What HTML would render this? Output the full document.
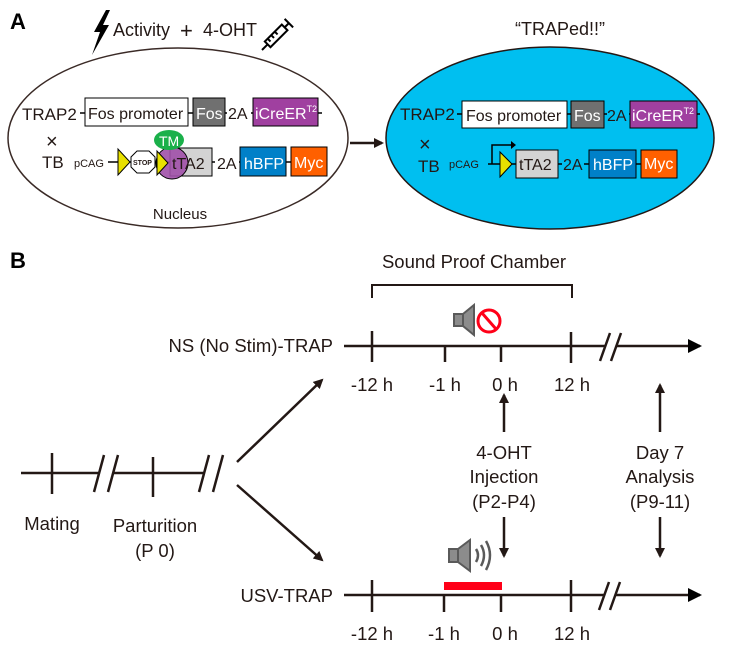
<!DOCTYPE html>
<html><head><style>body{margin:0;background:#fff}svg{display:block}text{font-family:"Liberation Sans",sans-serif;fill:#231815}</style></head>
<body>
<svg width="730" height="648" viewBox="0 0 730 648" xmlns="http://www.w3.org/2000/svg">
<defs>
<marker id="ah" markerWidth="10" markerHeight="10" refX="8" refY="5" orient="auto" markerUnits="userSpaceOnUse"><path d="M0,0 L10,5 L0,10 Z" fill="#231815"/></marker>
<marker id="ah2" markerWidth="14" markerHeight="14" refX="12" refY="7" orient="auto" markerUnits="userSpaceOnUse"><path d="M0,0 L14,7 L0,14 Z" fill="#000"/></marker>
</defs>
<!-- Panel A -->
<text x="10" y="29" font-size="22" font-weight="bold" style="fill:#000">A</text>
<path d="M106,10 L94,32 L100,32 L92,55 L109,25 L103,25 L110,10 Z" fill="#000"/>
<text x="113" y="36" font-size="18">Activity</text>
<text x="180" y="38" font-size="22">+</text>
<text x="203" y="36" font-size="18">4-OHT</text>
<g transform="translate(262,50) rotate(-45)" stroke="#000" fill="none" stroke-width="2">
<line x1="0" y1="0" x2="8" y2="0"/><rect x="8" y="-4" width="24" height="8" fill="#fff"/><line x1="32" y1="0" x2="38" y2="0"/><line x1="38" y1="-6" x2="38" y2="6"/><line x1="12" y1="-4" x2="12" y2="0"/><line x1="17" y1="-4" x2="17" y2="0"/><line x1="22" y1="-4" x2="22" y2="0"/>
</g>
<ellipse cx="178" cy="138" rx="170" ry="90" fill="#fff" stroke="#3a2a26" stroke-width="1.5"/>
<text x="22" y="120" font-size="17">TRAP2</text>
<line x1="80" y1="113" x2="322" y2="113" stroke="#000" stroke-width="1.5"/>
<rect x="85" y="98" width="103" height="28" fill="#fff" stroke="#000"/>
<text x="88" y="119" font-size="16">Fos promoter</text>
<rect x="193" y="98" width="32" height="28" fill="#707070" stroke="#000"/>
<text x="196" y="119" font-size="16" style="fill:#fff">Fos</text>
<rect x="227" y="100" width="24" height="24" fill="#fff"/>
<text x="228" y="119" font-size="16">2A</text>
<rect x="253" y="98" width="65" height="28" fill="#a040a0" stroke="#000"/>
<text x="255" y="119" font-size="16" style="fill:#fff">iCreER<tspan font-size="9" dy="-7">T2</tspan></text>
<text x="46" y="148" font-size="20">×</text>
<text x="42" y="168" font-size="17">TB</text>
<line x1="108" y1="162" x2="327" y2="162" stroke="#000" stroke-width="1.5"/>
<text x="74" y="167" font-size="11">pCAG</text>
<polygon points="118,149 118,175 130,162" fill="#e8e000" stroke="#000"/>
<polygon points="137,151 149,151 155,157 155,167 149,173 137,173 131,167 131,157" fill="#fff" stroke="#000"/>
<text x="133" y="165" font-size="7" font-weight="bold">STOP</text>
<rect x="170" y="148" width="42" height="28" fill="#d3d3d3" stroke="#000"/>
<circle cx="172" cy="163" r="16" fill="#a050a8" stroke="#000" fill-opacity="0.9"/>
<polygon points="157,151 157,175 168,163" fill="#e8e000" stroke="#000"/>
<text x="172" y="169" font-size="16">tTA2</text>
<ellipse cx="169" cy="140" rx="15" ry="10" fill="#1ab04a"/>
<text x="159" y="146" font-size="14" style="fill:#fff">TM</text>
<rect x="215" y="150" width="24" height="24" fill="#fff"/>
<text x="217" y="169" font-size="16">2A</text>
<rect x="240" y="147" width="46" height="29" fill="#0080c8" stroke="#000"/>
<text x="244" y="169" font-size="16" style="fill:#fff">hBFP</text>
<rect x="291" y="147" width="36" height="29" fill="#ff6000" stroke="#000"/>
<text x="294" y="168" font-size="16" style="fill:#fff">Myc</text>
<text x="180" y="219" font-size="15" text-anchor="middle">Nucleus</text>
<line x1="350" y1="143" x2="382" y2="143" stroke="#231815" stroke-width="2.5" marker-end="url(#ah)"/>
<text x="560" y="35" font-size="18" text-anchor="middle">“TRAPed!!”</text>
<ellipse cx="550" cy="138" rx="164" ry="91" fill="#00bff0" stroke="#231815" stroke-width="1.5"/>
<text x="400" y="120" font-size="17">TRAP2</text>
<line x1="457" y1="114" x2="700" y2="114" stroke="#000" stroke-width="1.5"/>
<rect x="462" y="101" width="105" height="27" fill="#fff" stroke="#000"/>
<text x="466" y="121" font-size="16">Fos promoter</text>
<rect x="571" y="101" width="33" height="27" fill="#707070" stroke="#000"/>
<text x="574" y="121" font-size="16" style="fill:#fff">Fos</text>
<rect x="607" y="103" width="22" height="22" fill="#00bff0"/>
<text x="607" y="121" font-size="16">2A</text>
<rect x="630" y="101" width="67" height="27" fill="#a040a0" stroke="#000"/>
<text x="632" y="121" font-size="16" style="fill:#fff">iCreER<tspan font-size="9" dy="-7">T2</tspan></text>
<text x="419" y="151" font-size="20">×</text>
<text x="418" y="172" font-size="17">TB</text>
<text x="449" y="168" font-size="11">pCAG</text>
<line x1="488" y1="164" x2="677" y2="164" stroke="#000" stroke-width="1.5"/>
<polyline points="492,164 492,145 514,145" fill="none" stroke="#000" stroke-width="1.5"/>
<path d="M511,141 L516,145 L511,149 Z" fill="#000"/>
<polygon points="500,152 500,177 512,164" fill="#e8e000" stroke="#000"/>
<rect x="516" y="150" width="42" height="28" fill="#d3d3d3" stroke="#000"/>
<text x="519" y="170" font-size="16">tTA2</text>
<rect x="562" y="153" width="22" height="22" fill="#00bff0"/>
<text x="563" y="170" font-size="16">2A</text>
<rect x="589" y="150" width="47" height="28" fill="#0080c8" stroke="#000"/>
<text x="593" y="170" font-size="16" style="fill:#fff">hBFP</text>
<rect x="641" y="150" width="36" height="28" fill="#ff6000" stroke="#000"/>
<text x="644" y="169" font-size="16" style="fill:#fff">Myc</text>
<!-- Panel B -->
<text x="10" y="268" font-size="22" font-weight="bold" style="fill:#000">B</text>
<text x="474" y="268" font-size="18.5" text-anchor="middle">Sound Proof Chamber</text>
<polyline points="372,298 372,285 572,285 572,298" fill="none" stroke="#231815" stroke-width="2"/>
<g stroke="#231815" stroke-width="2.5" fill="none">
<line x1="344" y1="346" x2="700" y2="346" marker-end="url(#ah2)"/>
<line x1="372" y1="331" x2="372" y2="362"/><line x1="445" y1="346" x2="445" y2="362"/><line x1="501" y1="346" x2="501" y2="362"/><line x1="571" y1="332" x2="571" y2="363"/>
<line x1="344" y1="595" x2="700" y2="595" marker-end="url(#ah2)"/>
<line x1="372" y1="580" x2="372" y2="612"/><line x1="444" y1="595" x2="444" y2="612"/><line x1="501" y1="595" x2="501" y2="612"/><line x1="571" y1="580" x2="571" y2="612"/>
<line x1="21" y1="473" x2="205" y2="473"/>
<line x1="52" y1="453" x2="52" y2="494"/><line x1="153" y1="457" x2="153" y2="497"/>
<line x1="237" y1="462" x2="322" y2="380" marker-end="url(#ah)"/>
<line x1="237" y1="485" x2="322" y2="560" marker-end="url(#ah)"/>
<line x1="504" y1="432" x2="504" y2="395" marker-end="url(#ah)"/>
<line x1="504" y1="517" x2="504" y2="556" marker-end="url(#ah)"/>
<line x1="660" y1="432" x2="660" y2="385" marker-end="url(#ah)"/>
<line x1="660" y1="517" x2="660" y2="556" marker-end="url(#ah)"/>
</g>
<!-- breaks -->
<g stroke="#231815" stroke-width="2.5">
<rect x="605" y="336" width="12" height="20" fill="#fff" stroke="none"/>
<line x1="600" y1="361" x2="610" y2="333"/><line x1="611" y1="361" x2="621" y2="333"/>
<rect x="604" y="585" width="12" height="20" fill="#fff" stroke="none"/>
<line x1="599" y1="610" x2="609" y2="582"/><line x1="610" y1="610" x2="620" y2="582"/>
<rect x="100" y="463" width="14" height="20" fill="#fff" stroke="none"/>
<line x1="94" y1="492" x2="104" y2="455"/><line x1="108" y1="492" x2="118" y2="455"/>
<line x1="199" y1="492" x2="209" y2="455"/><line x1="213" y1="492" x2="223" y2="455"/>
</g>
<g font-size="18.5" text-anchor="middle">
<text x="372" y="391">-12 h</text><text x="445" y="391">-1 h</text><text x="505" y="391">0 h</text><text x="572" y="391">12 h</text>
<text x="372" y="640">-12 h</text><text x="444" y="640">-1 h</text><text x="505" y="640">0 h</text><text x="572" y="640">12 h</text>
<text x="504" y="459">4-OHT</text><text x="504" y="483">Injection</text><text x="504" y="508">(P2-P4)</text>
<text x="660" y="459">Day 7</text><text x="660" y="483">Analysis</text><text x="660" y="508">(P9-11)</text>
<text x="52" y="530">Mating</text><text x="155" y="532">Parturition</text><text x="155" y="557">(P 0)</text>
</g>
<text x="333" y="352" font-size="18.5" text-anchor="end">NS (No Stim)-TRAP</text>
<text x="333" y="602" font-size="18.5" text-anchor="end">USV-TRAP</text>
<rect x="444" y="582" width="58" height="8" fill="#ff0018"/>
<!-- speakers -->
<g fill="#8c8c8c" stroke="#5a5a5a" stroke-width="2">
<rect x="454" y="314" width="9" height="12"/><polygon points="463,314 474,305 474,335 463,326"/>
<rect x="449" y="549" width="9" height="13"/><polygon points="458,549 470,540 470,571 458,562"/>
</g>
<circle cx="489" cy="321" r="11" fill="none" stroke="#ff0018" stroke-width="3"/>
<line x1="482" y1="313" x2="496" y2="329" stroke="#ff0018" stroke-width="3"/>
<g fill="none" stroke="#5a5a5a" stroke-width="2.5">
<path d="M476,549 Q480,555 476,562"/><path d="M481,545 Q487,555 481,566"/><path d="M486,541 Q494,555 486,570"/>
</g>
</svg>
</body></html>
